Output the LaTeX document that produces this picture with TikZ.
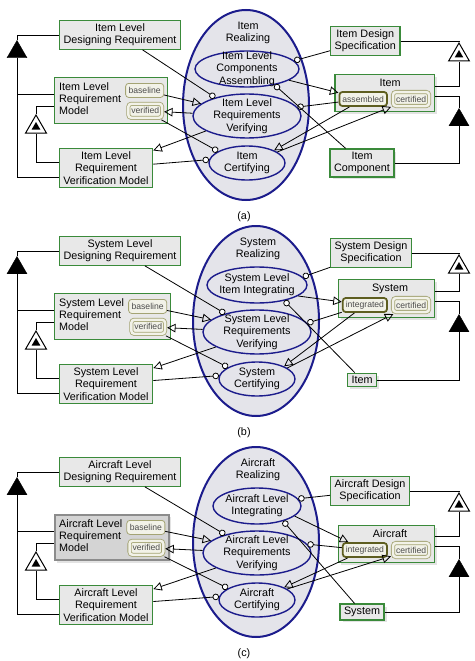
\documentclass[tikz,border=0pt]{standalone}
\usepackage{fontspec}
\setmainfont{Liberation Sans}
\usetikzlibrary{positioning, arrows.meta, fit, shapes.geometric, backgrounds, shadows}

\definecolor{boxgreen}{HTML}{3A8A3A}
\definecolor{boxfill}{HTML}{E8E8E8}
\definecolor{procblue}{HTML}{1C1C8C}
\definecolor{procfill}{HTML}{E4E4EA}
\definecolor{stline}{HTML}{A4A474}
\definecolor{stfill}{HTML}{F2F2E8}
\definecolor{stbold}{HTML}{5E5E20}

\tikzset{
  obj/.style={draw=boxgreen, fill=boxfill, line width=1.3pt, inner xsep=4pt, inner ysep=3pt, align=center},
  objfit/.style={draw=boxgreen, fill=boxfill, line width=1.3pt, inner sep=3.5pt},
  selfit/.style={draw=black!45, fill=black!17, line width=2pt, inner sep=3.5pt, shad},
  shad/.style={drop shadow={shadow xshift=2.5pt, shadow yshift=-2.5pt, fill=black!22}},
  procbig/.style={ellipse, draw=procblue, fill=procfill, line width=2pt, inner sep=0pt},
  proc/.style={ellipse, draw=procblue, fill=procfill, line width=1.4pt, inner sep=-20pt, align=center},
  stbox/.style={rounded corners=3pt, draw=stline, fill=stfill, line width=0.8pt, text=black!70,
    font=\fontsize{8.6}{9}\selectfont, inner xsep=3pt, inner ysep=1.5pt, minimum height=14pt},
  stinit/.style={stbox, draw=stbold, line width=1.8pt, outer sep=1pt},
  stfinal/.style={stbox, double=stfill, double distance=2.5pt, outer sep=2pt},
  aggtri/.style={regular polygon, regular polygon sides=3, draw, fill=black, minimum size=23pt, inner sep=0pt},
  exhtri/.style={regular polygon, regular polygon sides=3, draw, fill=white, line width=1pt, minimum size=24pt, inner sep=0pt},
  exhin/.style={regular polygon, regular polygon sides=3, fill=black, minimum size=10pt, inner sep=0pt},
  struct/.style={line width=0.9pt},
  inst/.style={line width=0.8pt, -{Circle[length=6.5pt, fill=white]}},
  res/.style={line width=0.8pt, -{Triangle[open, length=8.5pt, width=8.5pt]}}
}

\begin{document}
\begin{tikzpicture}[x=1pt, y=-1pt, font=\fontsize{10.8}{12.3}\selectfont]
\useasboundingbox (0,0) rectangle (474,661);

% one panel per level: (a) item, (b) system, (c) aircraft
\foreach \oy/\ex/\lvl/\who/\sub/\subw/\stat/\comp/\spy/\by/\py/\rmst/\lab in {
    0/246/Item Level/Item/{Item Level\\Components\\Assembling}/104/assembled/{Item\\Component}/41/93/163/objfit/a,
    216/256/System Level/System/{System Level\\Item Integrating}/100/integrated/Item/37/83/164/objfit/b,
    437/256/Aircraft Level/Aircraft/{Aircraft Level\\Integrating}/88/integrated/System/54/107/175/selfit/c}
{
\begin{scope}[yshift=-\oy*1pt, name prefix=\lab-]

  % processes
  \node[procbig, minimum width=126, minimum height=190] (real) at (\ex,105) {};
  \node[align=center] (realt) at (\ex+2,33) {\who\\Realizing};
  \node[proc, minimum width=\subw, minimum height=36] (integ) at (\ex+1,69) {\sub};
  \node[proc, minimum width=108, minimum height=44] (verif) at (\ex+1,116) {\lvl\\Requirements\\Verifying};
  \node[proc, minimum width=76, minimum height=34] (certif) at (\ex+1,163) {\who\\Certifying};

  % requirement objects on the left
  \node[obj] (desreq) at (120,35) {\lvl\\Designing Requirement};
  \node[align=left, inner sep=1pt, anchor=north west] (rmtxt) at (58,81) {\lvl\\Requirement\\Model};
  \node[stbox, anchor=north west] (base) at ([xshift=3pt,yshift=-2pt]rmtxt.north east) {baseline};
  \node[stfinal, anchor=north east] (verd) at ([yshift=-4pt]base.south east) {verified};
  \begin{scope}[on background layer]
    \node[\rmst, fit=(rmtxt)(base)(verd)] (reqmod) {};
  \end{scope}
  \node[obj] (vermod) at (106,168) {\lvl\\Requirement\\Verification Model};

  % design objects on the right
  \node[obj, anchor=west] (spec) at (330,\spy) {\who{} Design\\Specification};
  \node[stinit, anchor=east] (intd) at (388,\by+6) {\stat};
  \node[stfinal, right=3pt of intd] (cert) {certified};
  \node[inner sep=1pt] (systxt) at (390,\by-10) {\who};
  \begin{scope}[on background layer]
    \node[objfit, shad, fit=(systxt)(intd)(cert)] (sys) {};
  \end{scope}
  \node[obj, shad] (comp) at (362,\py) {\comp};

  % structural links
  \node[aggtri] (aggl) at (17,52) {};
  \node[exhtri] (exl) at (36,127) {};
  \node[exhin] (exlin) at (exl) {};
  \node[exhtri] (exr) at (459,\spy+14) {};
  \node[exhin] (exrin) at (exr) {};
  \node[aggtri] (aggr) at (459,\by+27) {};
  \draw[struct] (desreq.west) -| (aggl.north);
  \draw[struct] (aggl.south) |- ([yshift=6pt]reqmod.west);
  \draw[struct] (aggl.south) |- ([yshift=-9pt]vermod.west);
  \draw[struct] ([yshift=-6pt]reqmod.west) -| (exl.north);
  \draw[struct] (exl.south) |- ([yshift=6pt]vermod.west);
  \draw[struct] (spec.east) -| (exr.north);
  \draw[struct] (exr.south) |- ([yshift=7pt]sys.east);
  \draw[struct] ([yshift=-3pt]sys.east) -| (aggr.north);
  \draw[struct] (aggr.south) |- (comp.east);

  % procedural links
  \draw[inst] (desreq) -- (verif.150);
  \draw[res] (base) -- (verif.165);
  \draw[res] (verif) -- (verd);
  \draw[inst] (verd) -- (certif.158);
  \draw[res] (verif.200) -- (vermod);
  \draw[inst] (vermod) -- (certif.175);
  \draw[inst] (spec) -- (integ.10);
  \draw[res] (integ.345) -- (intd);
  \draw[inst] (intd) -- (verif.10);
  \draw[inst] (comp) -- (integ.330);
  \draw[res] (intd) -- (certif.25);
  \draw[res] (certif.20) -- (cert);

  \node (lab) at (244,217) {(\lab)};
\end{scope}
}
\end{tikzpicture}
\end{document}
